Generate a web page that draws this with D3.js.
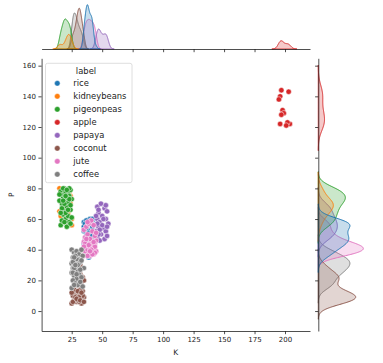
<!DOCTYPE html>
<html>
<head>
<meta charset="utf-8">
<script src="https://cdn.jsdelivr.net/npm/d3@7"></script>
<style>
  body { margin: 0; background: #fff; }
  svg { font-family: 'DejaVu Sans', sans-serif; display: block; }
</style>
</head>
<body>
<div id="chart-container"></div>
<script>
const labels = ['rice', 'kidneybeans', 'pigeonpeas', 'apple', 'papaya', 'coconut', 'jute', 'coffee'];
const colors = ['#1f77b4', '#ff7f0e', '#2ca02c', '#d62728', '#9467bd', '#8c564b', '#e377c2', '#7f7f7f'];

// [K, P] per sample
const rice = [[35,52],[36,55],[37,57],[38,47],[39,58],[40,60],[41,51],[42,56],[43,39],[38,50],
  [45,48],[35,44],[36,40],[37,45],[38,37],[39,35],[40,57],[41,44],[42,59],[43,46],
  [36,52],[37,46],[38,53],[39,58],[40,50],[41,47],[42,56],[39,42],[35,58],[36,46],
  [37,59],[38,36],[39,51],[40,41],[41,57],[42,45],[38,48],[37,54],[38,38],[35,55],
  [37,49],[38,41],[42,60],[36,57],[38,43],[40,43],[41,49],[42,55]];
const kidneybeans = [[22,69],[15,80],[23,71],[21,67],[24,70],[15,65],[22,73],[20,68],[25,56],
  [23,66],[21,72],[16,62],[24,75],[22,64],[19,70],[25,60],[23,78]];
const pigeonpeas = [[16,78],[19,80],[22,77],[24,79],[18,74],[20,72],[23,75],[17,70],[21,68],[25,73],
  [19,76],[15,72],[22,71],[24,66],[18,63],[20,60],[23,58],[16,56],[21,55],[19,65],
  [17,67],[22,62],[24,69],[20,78],[18,80],[23,80],[15,76],[21,74],[19,70],[17,59],
  [24,57],[20,64],[22,66],[18,72],[23,73],[16,64],[19,58],[21,79],[25,61],[20,75]];
const apple = [[197,144],[203,143],[196,140],[195,138],[198,131],[199,129],[197,128],
  [204,122],[202,123],[196,122],[201,121]];
const papaya = [[46,68],[49,70],[52,67],[47,64],[50,62],[54,65],[46,60],[48,58],[53,60],[55,57],
  [47,55],[51,54],[45,52],[49,50],[53,52],[46,48],[48,46],[52,47],[54,49],[47,66],
  [50,56],[45,62],[53,69],[48,53],[46,57],[51,60],[47,50],[54,55]];
const coconut = [[25,5],[27,7],[29,6],[31,8],[33,5],[35,9],[26,10],[28,12],[30,9],[32,11],
  [34,13],[31,6],[29,10],[27,14],[33,8],[30,7],[32,14],[26,6],[28,9],[31,12],
  [34,10],[30,13],[31,9],[33,12],[29,8],[32,7],[25,12],[35,6],
  [30,20],[31,22],[32,24],[29,21],[33,19],[31,26],[28,23],[34,22],[30,17],[32,21],
  [26,25],[31,18],[33,28],[29,29],[31,23],[35,20],[32,30]];
const jute = [[35,36],[37,38],[39,40],[41,42],[43,37],[45,39],[36,41],[38,43],[40,36],[42,40],
  [44,44],[35,45],[37,42],[39,38],[41,37],[43,41],[45,46],[36,39],[38,40],[40,44],
  [42,43],[44,38],[36,48],[38,50],[40,47],[42,52],[44,49],[35,53],[37,55],[39,57],
  [41,59],[43,56],[45,51],[36,44],[38,36],[40,41],[42,37],[44,42],[37,47],[39,43],
  [41,40],[43,45],[35,42],[40,39],[38,58]];
const coffee = [[25,40],[27,38],[29,39],[31,37],[33,40],[26,35],[28,33],[30,34],[32,32],[34,36],
  [25,31],[27,30],[29,29],[31,31],[26,28],[28,27],[30,26],[27,33],[25,25],[27,23],
  [29,21],[31,24],[33,22],[26,20],[28,18],[30,17],[32,19],[34,16],[25,15],[27,17],
  [29,34],[35,28],[26,32],[28,36],[27,28],[30,30],[33,33],[26,25],[28,30],[32,27],
  [27,35],[29,24]];

const groups = [rice, kidneybeans, pigeonpeas, apple, papaya, coconut, jute, coffee];
const xTicks = [25, 50, 75, 100, 125, 150, 175, 200];
const yTicks = [0, 20, 40, 60, 80, 100, 120, 140, 160];

const width = 383, height = 363;
const main = { left: 41.6, right: 310, top: 58.3, bottom: 331 };
const topBase = 49, topTop = 2.5;
const rightBase = 318.3, rightEnd = 365.6;

const svg = d3.select('#chart-container')
    .append('svg')
    .attr('width', width)
    .attr('height', height);

const x = d3.scaleLinear().domain([0.3, 220.5]).range([main.left, main.right]);
const y = d3.scaleLinear().domain([-13, 164.8]).range([main.bottom, main.top]);

const total = d3.sum(groups, g => g.length);

// gaussian kde, scott bandwidth, common norm over all groups
function kde(values) {
    const n = values.length;
    const bw = d3.deviation(values) * Math.pow(n, -0.2);
    const lo = d3.min(values) - 3 * bw;
    const hi = d3.max(values) + 3 * bw;
    return d3.range(200).map(i => {
        const g = lo + (hi - lo) * i / 199;
        const s = d3.sum(values, v => Math.exp(-0.5 * ((g - v) / bw) ** 2));
        return [g, s / (total * bw * Math.sqrt(2 * Math.PI))];
    });
}

const kdeK = groups.map(g => kde(g.map(d => d[0])));
const kdeP = groups.map(g => kde(g.map(d => d[1])));

const densK = d3.scaleLinear()
    .domain([0, d3.max(kdeK, c => d3.max(c, d => d[1])) * 1.05])
    .range([topBase, topTop]);
const densP = d3.scaleLinear()
    .domain([0, d3.max(kdeP, c => d3.max(c, d => d[1])) * 1.05])
    .range([rightBase, rightEnd]);

// marginals, last hue drawn first
const order = d3.range(groups.length).reverse();

const topG = svg.append('g');
order.forEach(i => {
    topG.append('path')
        .datum(kdeK[i])
        .attr('d', d3.area().x(d => x(d[0])).y0(topBase).y1(d => densK(d[1])))
        .attr('fill', colors[i])
        .attr('fill-opacity', 0.25)
        .attr('stroke', colors[i])
        .attr('stroke-width', 1);
});

const rightG = svg.append('g');
order.forEach(i => {
    rightG.append('path')
        .datum(kdeP[i])
        .attr('d', d3.area().y(d => y(d[0])).x0(rightBase).x1(d => densP(d[1])))
        .attr('fill', colors[i])
        .attr('fill-opacity', 0.25)
        .attr('stroke', colors[i])
        .attr('stroke-width', 1);
});

// marginal axes, ticks without labels
svg.append('g')
    .attr('transform', `translate(0,${topBase})`)
    .call(d3.axisBottom(x).tickValues(xTicks).tickFormat('').tickSize(3.2).tickSizeOuter(0));
svg.append('g')
    .attr('transform', `translate(${rightBase},0)`)
    .call(d3.axisLeft(y).tickValues(yTicks).tickFormat('').tickSize(3.2).tickSizeOuter(0));

// scatter in data order
const pts = [];
groups.forEach((g, i) => g.forEach(d => pts.push({ k: d[0], p: d[1], c: colors[i] })));

svg.append('g')
    .selectAll('circle')
    .data(pts)
    .enter().append('circle')
    .attr('cx', d => x(d.k))
    .attr('cy', d => y(d.p))
    .attr('r', 2.7)
    .attr('fill', d => d.c)
    .attr('stroke', '#fff')
    .attr('stroke-width', 0.5);

// main axes
const xAxis = svg.append('g')
    .attr('transform', `translate(0,${main.bottom})`)
    .call(d3.axisBottom(x).tickValues(xTicks).tickSize(3.2).tickPadding(2.5).tickSizeOuter(0));
const yAxis = svg.append('g')
    .attr('transform', `translate(${main.left},0)`)
    .call(d3.axisLeft(y).tickValues(yTicks).tickSize(3.2).tickPadding(2.5).tickSizeOuter(0));

svg.selectAll('.domain, .tick line')
    .attr('stroke', '#222')
    .attr('stroke-width', 0.8);
[xAxis, yAxis].forEach(a => a.selectAll('text')
    .attr('font-size', 7)
    .attr('font-family', "'DejaVu Sans', sans-serif")
    .attr('fill', '#222'));

svg.append('text')
    .attr('x', (main.left + main.right) / 2)
    .attr('y', 355)
    .attr('text-anchor', 'middle')
    .attr('font-size', 7.5)
    .attr('fill', '#222')
    .text('K');

svg.append('text')
    .attr('transform', `translate(14,${(main.top + main.bottom) / 2}) rotate(-90)`)
    .attr('text-anchor', 'middle')
    .attr('font-size', 7.5)
    .attr('fill', '#222')
    .text('P');

// legend
const legend = svg.append('g');
legend.append('rect')
    .attr('x', 45.5)
    .attr('y', 63.3)
    .attr('width', 86.5)
    .attr('height', 119.4)
    .attr('rx', 2)
    .attr('fill', '#fff')
    .attr('fill-opacity', 0.8)
    .attr('stroke', '#d6d6d6')
    .attr('stroke-width', 0.8);

legend.append('text')
    .attr('x', 86)
    .attr('y', 73.6)
    .attr('text-anchor', 'middle')
    .attr('font-size', 8.4)
    .attr('fill', '#222')
    .text('label');

labels.forEach((lab, i) => {
    const ly = 83.3 + i * 13;
    legend.append('circle')
        .attr('cx', 57.3)
        .attr('cy', ly)
        .attr('r', 2.8)
        .attr('fill', colors[i])
        .attr('stroke', '#fff')
        .attr('stroke-width', 0.5);
    legend.append('text')
        .attr('x', 73.3)
        .attr('y', ly + 2.9)
        .attr('font-size', 8.4)
        .attr('fill', '#222')
        .text(lab);
});
</script>
</body>
</html>
